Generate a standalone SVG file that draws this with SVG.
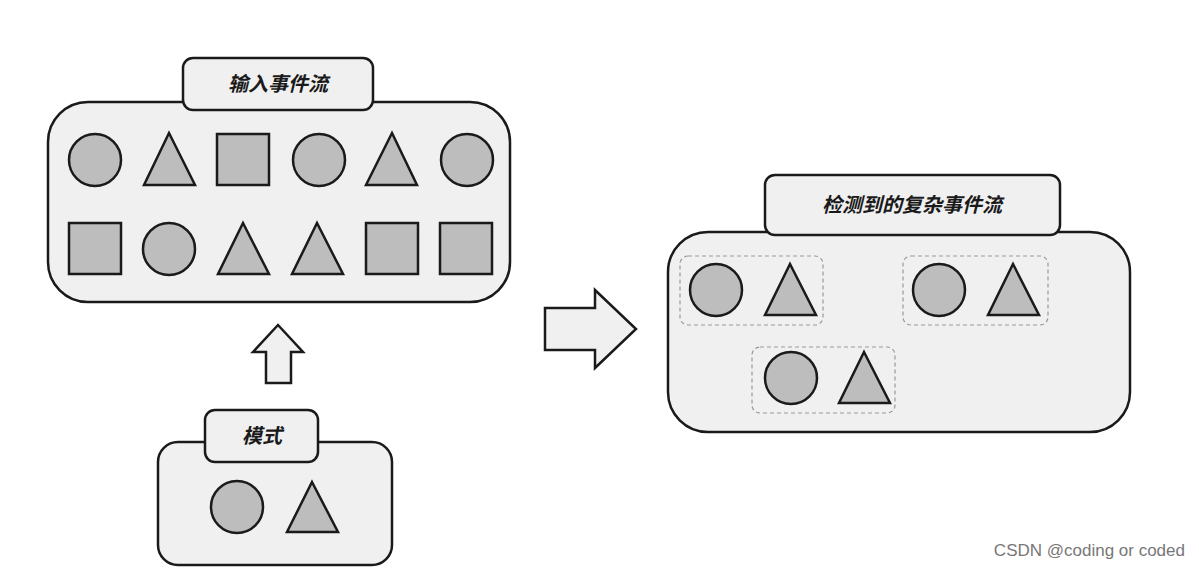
<svg xmlns="http://www.w3.org/2000/svg" width="1199" height="570" viewBox="0 0 1199 570">
<style>
.box{fill:#f0f0f0;stroke:#1a1a1a;stroke-width:2.5}
.s{fill:#bdbdbd;stroke:#1a1a1a;stroke-width:2.5}
.grp{fill:none;stroke:#999;stroke-width:1.2;stroke-dasharray:4 3}
.t{font-family:"Liberation Sans","Noto Sans CJK SC",sans-serif;font-size:20px;font-weight:bold;font-style:italic;fill:#1a1a1a;text-anchor:middle}
</style>
<rect width="1199" height="570" fill="#fff"/>
<g id="input">
<rect class="box" x="48" y="102" width="462" height="200" rx="40"/>
<rect class="box" x="183" y="58" width="190" height="52" rx="10"/>
<text class="t" x="278" y="91">输入事件流</text>
<circle class="s" cx="95" cy="160" r="26"/>
<polygon class="s" points="169,133 195,185 144,185"/>
<rect class="s" x="217" y="134" width="52" height="51"/>
<circle class="s" cx="319" cy="160" r="26"/>
<polygon class="s" points="392,133 417,185 366,185"/>
<circle class="s" cx="467" cy="160" r="26"/>
<rect class="s" x="69" y="223" width="52" height="51"/>
<circle class="s" cx="169" cy="249" r="26"/>
<polygon class="s" points="243,223 269,274 218,274"/>
<polygon class="s" points="317,223 343,274 292,274"/>
<rect class="s" x="366" y="223" width="52" height="51"/>
<rect class="s" x="440" y="223" width="52" height="51"/>
</g>
<g id="pattern">
<rect class="box" x="158" y="442" width="234" height="123" rx="20"/>
<rect class="box" x="205" y="410" width="113" height="52" rx="10"/>
<text class="t" x="262" y="443">模式</text>
<circle class="s" cx="237" cy="507" r="26"/>
<polygon class="s" points="312,482 338,532 287,532"/>
</g>
<g id="output">
<rect class="box" x="668" y="232" width="462" height="200" rx="40"/>
<rect class="box" x="765" y="175" width="295" height="60" rx="10"/>
<text class="t" x="912" y="212">检测到的复杂事件流</text>
<rect class="grp" x="680" y="256" width="143" height="69" rx="8"/>
<rect class="grp" x="903" y="256" width="145" height="69" rx="8"/>
<rect class="grp" x="752" y="347" width="143" height="66" rx="8"/>
<circle class="s" cx="716" cy="290" r="26"/>
<polygon class="s" points="790,264 816,315 765,315"/>
<circle class="s" cx="939" cy="290" r="26"/>
<polygon class="s" points="1013,264 1039,315 988,315"/>
<circle class="s" cx="791" cy="378" r="26"/>
<polygon class="s" points="864,352 890,403 839,403"/>
</g>
<g id="connectors">
<polygon class="box" stroke-width="2" points="266,383 291,383 291,352 303,352 278,325 253,352 266,352"/>
<polygon class="box" stroke-width="2" points="545,308 595,308 595,290 636,329 595,368 595,350 545,350"/>
</g>
<text x="1185" y="556" font-family="'Liberation Sans','Noto Sans CJK SC',sans-serif" font-size="17" fill="#777" text-anchor="end">CSDN @coding or coded</text>
</svg>
